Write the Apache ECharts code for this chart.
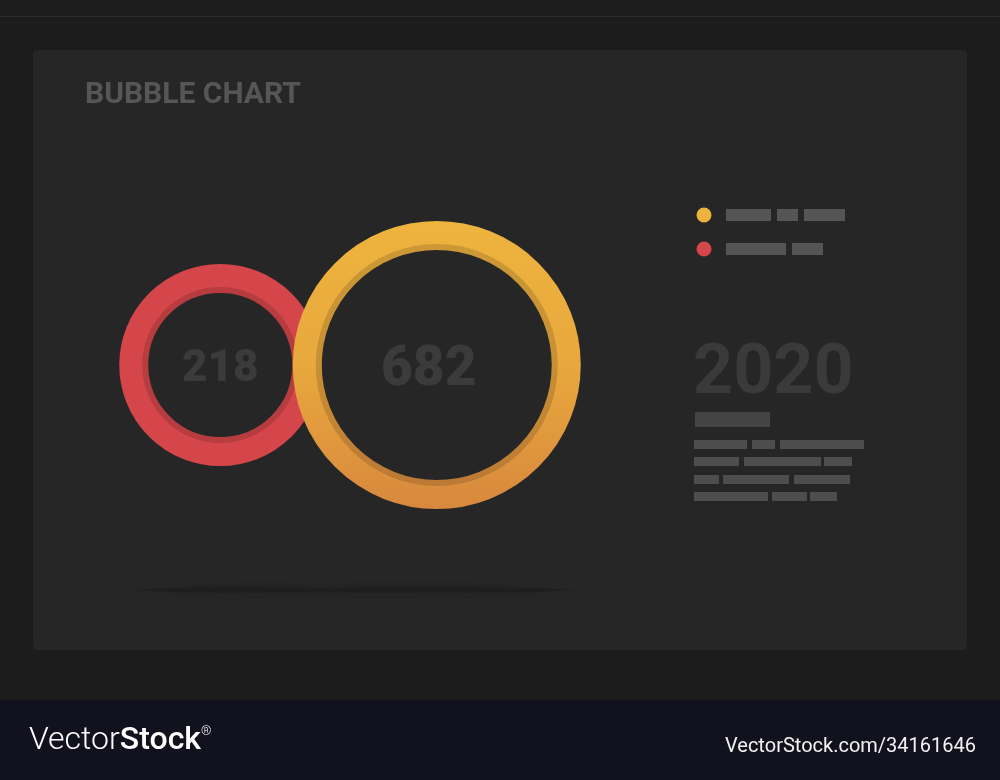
<!DOCTYPE html>
<html>
<head>
<meta charset="utf-8">
<script src="https://cdn.jsdelivr.net/npm/echarts@6/dist/echarts.min.js"></script>
<style>
html,body{margin:0;padding:0;background:#1c1c1c;}
#chart{width:1000px;height:780px;}
</style>
</head>
<body>
<div id="chart"></div>
<script>
// ---- data ----
const categories = ['A', 'B'];
const values = [218, 682];
const yearLabel = '2020';
const titleText = 'BUBBLE CHART';

// ---- styling helpers ----
const RING = 29;        // ring thickness in px
const BAND = 6;         // inner shading band
const SIZE_MIN = 202, SIZE_MAX = 288;
const vMin = Math.min(...values), vMax = Math.max(...values);
function outerSize(v) {
  return SIZE_MIN + (v - vMin) / (vMax - vMin) * (SIZE_MAX - SIZE_MIN);
}
function labelSize(v) {
  return Math.round(44 + (v - vMin) / (vMax - vMin) * 11);
}
const labelOffsets = [[0, 5], [-8, 6]];
const ringColors = [
  '#D4464A',
  new echarts.graphic.LinearGradient(0, 0, 0, 1, [
    { offset: 0, color: '#EEB43E' },
    { offset: 0.5, color: '#E8A83D' },
    { offset: 1, color: '#D8883D' }
  ])
];

const series = [];
categories.forEach((c, i) => {
  const item = { name: c, value: [c, 0, values[i]] };
  series.push({
    type: 'scatter',
    z: 2 + i * 2,
    silent: true,
    data: [item],
    symbol: 'circle',
    symbolSize: d => outerSize(d[2]) - RING,
    itemStyle: { color: 'rgba(0,0,0,0)', borderColor: ringColors[i], borderWidth: RING, opacity: 1 }
  });
  series.push({
    type: 'scatter',
    z: 3 + i * 2,
    silent: true,
    data: [item],
    symbol: 'circle',
    symbolSize: d => outerSize(d[2]) - 2 * RING + BAND,
    itemStyle: { color: 'rgba(0,0,0,0)', borderColor: 'rgba(0,0,0,0.14)', borderWidth: BAND, opacity: 1 },
    label: {
      show: true,
      position: 'inside',
      formatter: p => String(p.value[2]),
      color: '#3b3b3b',
      fontFamily: 'Roboto',
      fontWeight: 900,
      fontSize: labelSize(values[i]),
      offset: labelOffsets[i]
    }
  });
});

const legendBars = [
  [[726, 209, 45, 12], [777, 209, 21, 12], [804, 209, 41, 12]],
  [[726, 243, 60, 12], [792, 243, 31, 12]]
];
const textBars = [
  [694, 440, 53, 9], [752, 440, 23, 9], [780, 440, 84, 9],
  [694, 457, 45, 9], [744, 457, 77, 9], [824, 457, 28, 9],
  [694, 475, 25, 9], [723, 475, 66, 9], [794, 475, 56, 9],
  [694, 492, 74, 9], [772, 492, 35, 9], [810, 492, 27, 9]
];

const graphic = [
  { type: 'rect', z: -10, shape: { x: 0, y: 0, width: 1000, height: 16 }, style: { fill: '#1d1d1d' } },
  { type: 'rect', z: -10, shape: { x: 0, y: 16, width: 1000, height: 1 }, style: { fill: '#2c2c2c' } },
  { type: 'rect', z: -9, shape: { x: 33, y: 50, width: 934, height: 600, r: 4 }, style: { fill: '#262626' } },
  // ground shadow
  { type: 'ellipse', z: -8, shape: { cx: 355, cy: 590, rx: 230, ry: 3 }, style: { fill: 'rgba(0,0,0,0.06)', shadowBlur: 14, shadowColor: 'rgba(0,0,0,0.35)' } },
  { type: 'ellipse', z: -8, shape: { cx: 235, cy: 590, rx: 90, ry: 3 }, style: { fill: 'rgba(0,0,0,0.08)', shadowBlur: 14, shadowColor: 'rgba(0,0,0,0.35)' } },
  { type: 'ellipse', z: -8, shape: { cx: 440, cy: 590, rx: 125, ry: 3 }, style: { fill: 'rgba(0,0,0,0.08)', shadowBlur: 14, shadowColor: 'rgba(0,0,0,0.35)' } },
  // title
  { type: 'text', left: 85, top: 80, style: { text: titleText, fill: '#565656', font: 'bold 30px Roboto' } },
  // legend dots
  { type: 'circle', shape: { cx: 704, cy: 215, r: 7.5 }, style: { fill: '#EDB33E' } },
  { type: 'circle', shape: { cx: 704, cy: 249, r: 7.5 }, style: { fill: '#D4464A' } },
  // year
  { type: 'text', style: { x: 693, y: 375, text: yearLabel, fill: '#3a3a3a', font: 'bold 70px Roboto', verticalAlign: 'middle' } },
  { type: 'rect', shape: { x: 695, y: 412, width: 75, height: 15 }, style: { fill: '#444444' } },
  // watermark bar
  { type: 'rect', shape: { x: 0, y: 700, width: 1000, height: 80 }, style: { fill: '#12121f' } },
  { type: 'text', style: { x: 29, y: 741, verticalAlign: 'middle', fill: '#ffffff',
      text: '{a|Vector}{b|Stock}{c|®}',
      rich: {
        a: { font: '300 32px Roboto', fill: '#ffffff' },
        b: { font: '500 32px Roboto', fill: '#ffffff' },
        c: { font: '300 13px Roboto', fill: '#ffffff', verticalAlign: 'top', padding: [0,0,18,0] }
      } } },
  { type: 'text', style: { x: 976, y: 747, align: 'right', verticalAlign: 'middle', text: 'VectorStock.com/34161646', fill: '#f2f2f2', font: '20px Roboto' } }
];
legendBars.forEach(row => row.forEach(b => graphic.push({ type: 'rect', shape: { x: b[0], y: b[1], width: b[2], height: b[3] }, style: { fill: '#555555' } })));
textBars.forEach(b => graphic.push({ type: 'rect', shape: { x: b[0], y: b[1], width: b[2], height: b[3] }, style: { fill: '#4d4d4d' } }));

const chart = echarts.init(document.getElementById('chart'));
chart.setOption({
  backgroundColor: '#1c1c1c',
  animation: false,
  grid: { left: 112, width: 433, top: 265, height: 200 },
  xAxis: { type: 'category', data: categories, show: false, boundaryGap: true },
  yAxis: { type: 'value', min: -1, max: 1, show: false },
  graphic: graphic,
  series: series
});
</script>
</body>
</html>
